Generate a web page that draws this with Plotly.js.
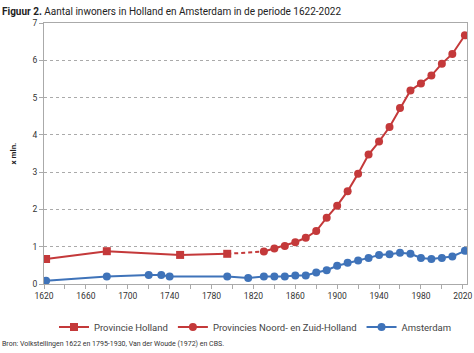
<!DOCTYPE html>
<html>
<head>
<meta charset="utf-8">
<script src="https://cdn.plot.ly/plotly-3.0.1.min.js"></script>
<style>
  html, body { margin: 0; padding: 0; background: #fff; }
  #chart { width: 474px; height: 353px; }
</style>
</head>
<body>
<div id="chart"></div>
<script>
// Inwoners (x mln.) per jaar
const hollandYears = [1622, 1680, 1750, 1795];
const hollandValues = [0.67, 0.88, 0.78, 0.81];

const nzYears = [1830, 1840, 1850, 1860, 1870, 1880, 1890, 1900, 1910, 1920, 1930, 1940, 1950, 1960, 1970, 1980, 1990, 2000, 2010, 2022];
const nzValues = [0.87, 0.95, 1.02, 1.12, 1.24, 1.42, 1.78, 2.10, 2.49, 2.96, 3.47, 3.82, 4.21, 4.72, 5.19, 5.38, 5.59, 5.91, 6.17, 6.67];

const amsYears = [1622, 1680, 1720, 1732, 1740, 1795, 1815, 1830, 1840, 1850, 1860, 1870, 1880, 1890, 1900, 1910, 1920, 1930, 1940, 1950, 1960, 1970, 1980, 1990, 2000, 2010, 2022];
const amsValues = [0.09, 0.20, 0.24, 0.24, 0.20, 0.20, 0.16, 0.20, 0.20, 0.20, 0.23, 0.23, 0.31, 0.37, 0.49, 0.57, 0.63, 0.70, 0.78, 0.80, 0.84, 0.81, 0.70, 0.67, 0.70, 0.74, 0.89];

const xTickVals = [1620, 1660, 1700, 1740, 1780, 1820, 1860, 1900, 1940, 1980, 2020];
const yTickVals = [0, 1, 2, 3, 4, 5, 6, 7];

const RED = '#c4393a';
const BLUE = '#3f73b9';
const FONT = 'Roboto, "Liberation Sans", sans-serif';

const traces = [
  {
    x: hollandYears, y: hollandValues, name: 'Provincie Holland',
    mode: 'lines+markers', line: {color: RED, width: 2},
    marker: {symbol: 'square', size: 8, color: RED}
  },
  {
    // dashed connection between the two Holland series
    x: [hollandYears[hollandYears.length - 1], nzYears[0]],
    y: [hollandValues[hollandValues.length - 1], nzValues[0]],
    mode: 'lines', line: {color: RED, width: 2, dash: '4px,3px'},
    showlegend: false, hoverinfo: 'skip'
  },
  {
    x: nzYears, y: nzValues, name: 'Provincies Noord- en Zuid-Holland',
    mode: 'lines+markers', line: {color: RED, width: 2},
    marker: {symbol: 'circle', size: 8, color: RED}
  },
  {
    x: amsYears, y: amsValues, name: 'Amsterdam',
    mode: 'lines+markers', line: {color: BLUE, width: 2},
    marker: {symbol: 'circle', size: 8, color: BLUE}
  }
];

const layout = {
  width: 474, height: 353,
  margin: {l: 44, r: 7, t: 23, b: 69},
  paper_bgcolor: '#fff', plot_bgcolor: '#fff',
  font: {family: FONT, size: 9, color: '#333'},
  showlegend: true,
  legend: {
    orientation: 'h', x: 0.5, xanchor: 'center', y: -0.165, yanchor: 'middle',
    font: {family: FONT, size: 9.5, color: '#444'}, itemwidth: 30, tracegroupgap: 0
  },
  xaxis: {
    range: [1620, 2024], tickvals: xTickVals, ticks: 'outside', ticklen: 4,
    tickcolor: '#aaa', showgrid: false, zeroline: false,
    showline: true, linecolor: '#aaa', linewidth: 1, mirror: true,
    tickfont: {size: 8.5, color: '#333'},
    minor: {dtick: 20, tick0: 1620, ticks: 'outside', ticklen: 4, tickcolor: '#aaa', showgrid: false}
  },
  yaxis: {
    range: [0, 7], tickvals: yTickVals, ticks: 'outside', ticklen: 4,
    tickcolor: '#aaa', showgrid: true, gridcolor: '#aaa', griddash: '3px,3px', gridwidth: 1,
    zeroline: false, showline: true, linecolor: '#aaa', linewidth: 1, mirror: true,
    tickfont: {size: 8.5, color: '#333'},
    title: {text: '<b>x mln.</b>', font: {size: 8, color: '#222'}, standoff: 14}
  },
  annotations: [
    {
      text: '<b>Figuur 2.</b> Aantal inwoners in Holland en Amsterdam in de periode 1622-2022',
      xref: 'paper', yref: 'paper', x: 0, xanchor: 'left', xshift: -44,
      y: 1, yanchor: 'bottom', yshift: 4,
      showarrow: false, font: {family: FONT, size: 10, color: '#222'}
    },
    {
      text: 'Bron: Volkstellingen 1622 en 1795-1930, Van der Woude (1972) en CBS.',
      xref: 'paper', yref: 'paper', x: 0, xanchor: 'left', xshift: -44,
      y: 0, yanchor: 'top', yshift: -54,
      showarrow: false, font: {family: FONT, size: 7, color: '#333'}
    }
  ]
};

Plotly.newPlot('chart', traces, layout, {displayModeBar: false, staticPlot: true});
</script>
</body>
</html>
